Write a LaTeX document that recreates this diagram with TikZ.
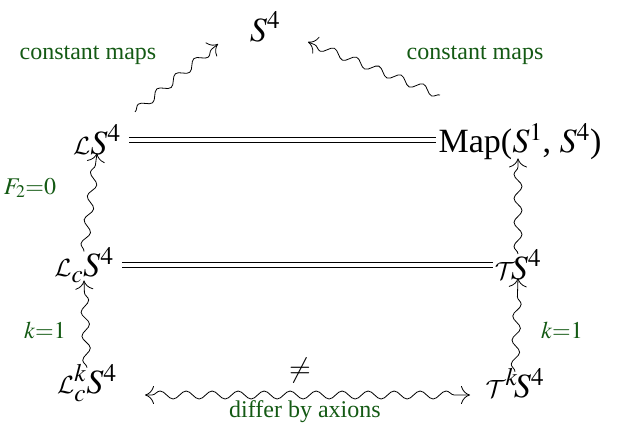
\documentclass[tikz,border=0pt]{standalone}
\usepackage{mathptmx}
\DeclareMathAlphabet{\mathcal}{OMS}{cmsy}{m}{n}
\usepackage[no-math]{fontspec}
\setmainfont{Liberation Serif}
\usetikzlibrary{decorations.pathmorphing,arrows.meta}
\definecolor{lg}{RGB}{20,90,20}
\begin{document}
\begin{tikzpicture}[x=1pt,y=-1pt,
  obj/.style={font=\fontsize{34}{40}\selectfont, inner sep=2pt},
  lab/.style={font=\fontsize{24}{28}\selectfont, text=lg, inner sep=1pt},
  sq/.style={decorate, decoration={snake, amplitude=4pt, segment length=24pt, post length=7pt}, line width=0.8pt},
  tip/.style={-{To[length=9pt,width=18pt,line width=0.8pt]}},
  eq/.style={double, double distance=4pt, line width=0.9pt}]
\useasboundingbox (0,0) rectangle (626,436);
\node[obj] (S) at (265,27) {$S^4$};
\node[obj] (L) at (97,140) {$\mathcal{L}S^4$};
\node[obj] (M) at (520,142) {Map($S^1$, $S^4$)};
\node[obj] (Lc) at (84,265) {$\mathcal{L}_cS^4$};
\node[obj] (T) at (518,265) {$\mathcal{T}\!S^4$};
\node[obj] (Lk) at (87,383) {$\mathcal{L}_c^kS^4$};
\node[obj] (Tk) at (515,383) {$\mathcal{T}^k\!S^4$};
\coordinate (a1) at (135,112); \coordinate (a2) at (218,44);
\coordinate (b1) at (440,95); \coordinate (b2) at (308,42);
\draw[sq,tip] (a1) -- (a2);
\draw[sq,tip] (b1) -- (b2);
\node[lab] (c1) at (88,55) {constant maps};
\node[lab] (c2) at (475,55) {constant maps};
\draw[eq] (L.east) ++(6,0) coordinate (l1) -- (M.west |- l1);
\draw[eq] (Lc.east) ++(6,0) coordinate (l2) -- (T.west |- l2);
\draw[sq,tip] ([yshift=-6pt]Lc.north) -- ([yshift=4pt]L.south);
\draw[sq,tip] ([yshift=-6pt]Lk.north) -- ([yshift=4pt]Lc.south);
\draw[sq,tip] ([yshift=-6pt]T.north) -- ([yshift=4pt]M.south -| T.north);
\draw[sq,tip] ([yshift=-6pt]Tk.north) -- ([yshift=4pt]T.south);
\node[lab] (f) at (30,188) {$F_2{=}0$};
\node[lab] (k1) at (45,330) {$k{=}1$};
\node[lab] (k2) at (562,330) {$k{=}1$};
\coordinate (h1) at (145,395); \coordinate (h2) at (470,395);
\draw[decorate, decoration={snake, amplitude=4pt, segment length=26pt, pre length=7pt, post length=7pt}, line width=0.8pt, {To[length=9pt,width=18pt,line width=0.8pt]}-{To[length=9pt,width=18pt,line width=0.8pt]}] (h1) -- (h2);
\node[obj, font=\fontsize{28}{32}\selectfont] (ne) at (300,370) {$\neq$};
\node[lab] (d) at (305,412) {differ by axions};
\end{tikzpicture}
\end{document}
